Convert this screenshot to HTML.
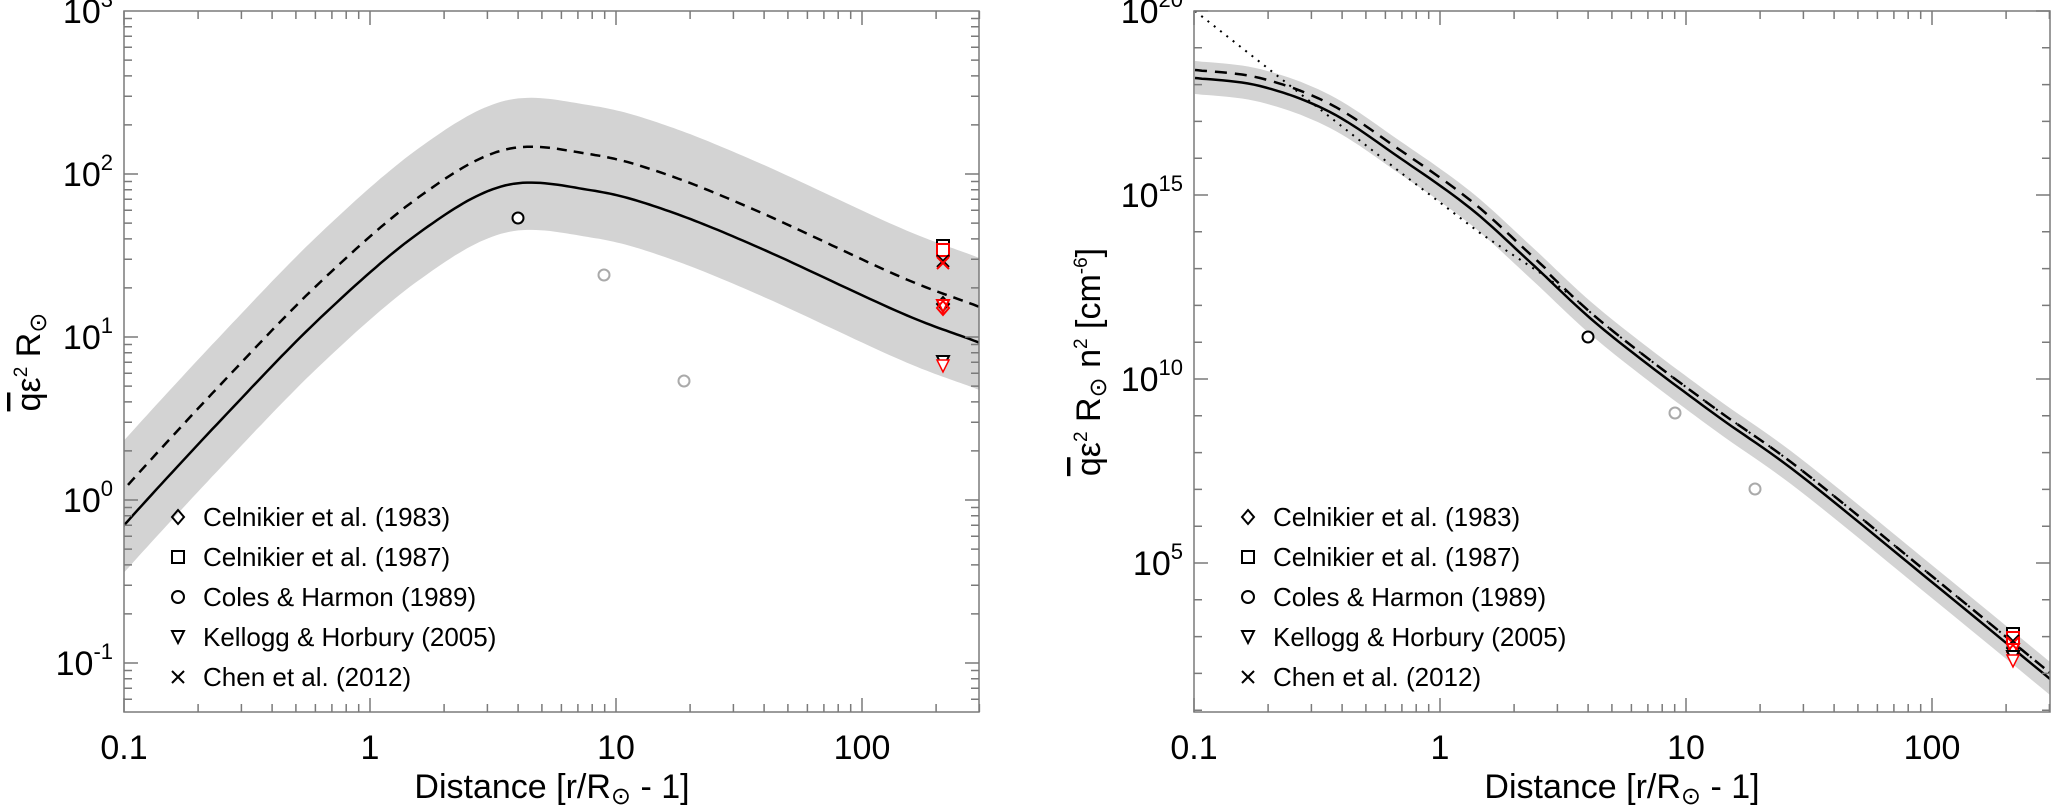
<!DOCTYPE html>
<html><head><meta charset="utf-8"><style>
html,body{margin:0;padding:0;background:#fff;}
svg{display:block;font-family:"Liberation Sans",sans-serif;}
</style></head><body>
<svg id="s" width="2051" height="805" xmlns="http://www.w3.org/2000/svg"></svg>
<script>
const S=document.getElementById('s');let h='';
function sample(p,n){
 const out=[];for(let i=0;i<p.length-1;i++){const p0=p[Math.max(i-1,0)],p1=p[i],p2=p[i+1],p3=p[Math.min(i+2,p.length-1)];
  for(let k=0;k<n;k++){const t=k/n,t2=t*t,t3=t2*t;
   out.push([0,1].map(j=>0.5*((2*p1[j])+(-p0[j]+p2[j])*t+(2*p0[j]-5*p1[j]+4*p2[j]-p3[j])*t2+(-p0[j]+3*p1[j]-3*p2[j]+p3[j])*t3)));}}
 out.push(p[p.length-1]);return out;}
const pl=a=>'M'+a.map(q=>q[0].toFixed(1)+','+q[1].toFixed(1)).join('L');
const G='#7a7a7a';
// ---------- LEFT PANEL ----------
const LX=u=>124+(u+1)*246, LY=v=>11+(3-v)*163;
const ls=sample([[-1.3,-0.68],[-1,-0.155],[-0.6,0.5],[-0.2,1.12],[0.2,1.64],[0.55,1.93],[0.9,1.90],[1.2,1.78],[1.585,1.546],[2.16,1.147],[2.48,0.963],[2.7,0.82]],20);
const up=ls.map(q=>[LX(q[0]),LY(q[1]+0.52)]), lo=ls.map(q=>[LX(q[0]),LY(q[1]-0.29)]);
h+='<clipPath id="cl"><rect x="124" y="11" width="855" height="701"/></clipPath>';
h+='<clipPath id="cr"><rect x="1194" y="11" width="856" height="701"/></clipPath>';
h+='<g clip-path="url(#cl)">';
h+='<path d="'+pl(up)+'L'+pl(lo.slice().reverse()).slice(1)+'Z" fill="#d3d3d3"/>';
h+='<path d="'+pl(ls.map(q=>[LX(q[0]),LY(q[1]+0.22)]))+'" fill="none" stroke="#000" stroke-width="2.5" stroke-dasharray="10,7"/>';
h+='<path d="'+pl(ls.map(q=>[LX(q[0]),LY(q[1])]))+'" fill="none" stroke="#000" stroke-width="2.5"/>';
h+='</g>';
h+='<circle cx="518" cy="218" r="5.5" fill="#fff" stroke="#000" stroke-width="2"/>';
h+='<circle cx="604" cy="275" r="5.5" fill="none" stroke="#aaa" stroke-width="2"/>';
h+='<circle cx="684" cy="381" r="5.5" fill="none" stroke="#aaa" stroke-width="2"/>';
function markers(x,ys){let s='';
 s+='<rect x="'+(x-6)+'" y="'+(ys.sq-7)+'" width="12" height="12" fill="#fff" stroke="#000" stroke-width="2"/>';
 s+='<rect x="'+(x-6)+'" y="'+(ys.sq-3)+'" width="12" height="12" fill="#fff" stroke="red" stroke-width="2"/>';
 s+='<path d="M'+(x-6)+','+(ys.x-5)+'l12,12M'+(x+6)+','+(ys.x-5)+'l-12,12" stroke="#000" stroke-width="2"/>';
 s+='<path d="M'+(x-6)+','+(ys.x-3)+'l12,12M'+(x+6)+','+(ys.x-3)+'l-12,12" stroke="red" stroke-width="2"/>';
 s+='<path d="M'+x+','+(ys.d-7)+'l6,7l-6,7l-6,-7Z" fill="#fff" stroke="#000" stroke-width="2"/>';
 s+='<path d="M'+(x-6)+','+(ys.d-4)+'h12l-6,12Z" fill="#fff" stroke="red" stroke-width="2"/>';
 s+='<path d="M'+x+','+(ys.d-3)+'l6,7l-6,7l-6,-7Z" fill="none" stroke="red" stroke-width="2"/>';
 s+='<path d="M'+(x-6)+','+(ys.t-4)+'h12l-6,12Z" fill="#fff" stroke="#000" stroke-width="2"/>';
 s+='<path d="M'+(x-6)+','+(ys.t)+'h12l-6,12Z" fill="#fff" stroke="red" stroke-width="1.5"/>';
 return s;}
h+=markers(943,{sq:247,x:260,d:304,t:360});
// ---------- RIGHT PANEL ----------
const rs=[[1195,78],[1260,86],[1330,112],[1400,158],[1470,208],[1530,262],[1590,318],[1650,366],[1720,418],[1800,475],[1933,583],[2055,683]];
const rsp=sample(rs,12);
h+='<g clip-path="url(#cr)">';
h+='<path d="'+pl(rsp.map(q=>[q[0],q[1]-17]))+'L'+pl(rsp.map(q=>[q[0],q[1]+16]).reverse()).slice(1)+'Z" fill="#d3d3d3"/>';
const dsp=rsp.map(q=>[q[0],q[1]-(q[0]<1550?8:6)]);
h+='<path d="'+pl(dsp)+'" fill="none" stroke="#000" stroke-width="2.5" stroke-dasharray="12,8"/>';
const dot=[[1195,11],[1270,70],[1400,172],[1480,233],[1510,253],[1545,276]].concat(dsp.filter(q=>q[0]>1570));
h+='<path d="'+pl(dot)+'" fill="none" stroke="#000" stroke-width="2" stroke-dasharray="2,6"/>';
h+='<path d="'+pl(rsp)+'" fill="none" stroke="#000" stroke-width="2.5"/>';
h+='</g>';
h+='<circle cx="1588" cy="337" r="5.5" fill="#fff" stroke="#000" stroke-width="2"/>';
h+='<circle cx="1675" cy="413" r="5.5" fill="none" stroke="#aaa" stroke-width="2"/>';
h+='<circle cx="1755" cy="489" r="5.5" fill="none" stroke="#aaa" stroke-width="2"/>';
h+=markers(2013,{sq:635,x:640,d:648,t:655});
// ---------- AXES ----------
function xaxis(x0){let s='<rect x="'+x0+'" y="11" width="'+(x0==124?855:856)+'" height="701" fill="none" stroke="'+G+'" stroke-width="1.5"/>';
 for(let d=-1;d<=2;d++)for(let m=1;m<=9;m++){const u=d+Math.log10(m);const x=x0+(u+1)*246;if(x>x0+856)continue;const L=m==1?14:8;
  s+='<path d="M'+x.toFixed(1)+',712v-'+L+'M'+x.toFixed(1)+',11v'+L+'" stroke="'+G+'" stroke-width="1.5"/>';}
 const labs=[['0.1',0],['1',1],['10',2],['100',3]];
 labs.forEach(l=>{s+='<text x="'+(x0+l[1]*246)+'" y="759" font-size="34" text-anchor="middle">'+l[0]+'</text>';});
 s+='<text x="'+(x0+428)+'" y="798" font-size="34" text-anchor="middle">Distance [r/R<tspan font-size="24" dy="6">⊙</tspan><tspan dy="-6"> - 1]</tspan></text>';
 return s;}
h+=xaxis(124);h+=xaxis(1194);
for(let d=-2;d<=2;d++)for(let m=1;m<=9;m++){const v=d+Math.log10(m);const y=LY(v);if(y>712||y<11)continue;const L=m==1?14:8;
 h+='<path d="M124,'+y.toFixed(1)+'h'+L+'M979,'+y.toFixed(1)+'h-'+L+'" stroke="'+G+'" stroke-width="1.5"/>';}
[3,2,1,0,-1].forEach(e=>{const y=LY(e);h+='<text x="113" y="'+(y+12)+'" font-size="34" text-anchor="end">10<tspan font-size="22" dy="-16">'+e+'</tspan></text>';});
const RY=v=>11+(20-v)*36.8;
for(let v=1;v<=20;v++){const y=RY(v);if(y>712)continue;const L=v%5==0?14:8;
 h+='<path d="M1194,'+y.toFixed(1)+'h'+L+'M2050,'+y.toFixed(1)+'h-'+L+'" stroke="'+G+'" stroke-width="1.5"/>';}
[20,15,10,5].forEach(e=>{const y=RY(e);h+='<text x="1183" y="'+(y+12)+'" font-size="34" text-anchor="end">10<tspan font-size="22" dy="-16">'+e+'</tspan></text>';});
h+='<text transform="translate(40,362) rotate(-90)" font-size="34" text-anchor="middle"><tspan text-decoration="overline">q</tspan>ε<tspan font-size="19" dy="-13">2</tspan><tspan dy="13"> R</tspan><tspan font-size="24" dy="6">⊙</tspan></text>';
h+='<text transform="translate(1100,362) rotate(-90)" font-size="34" text-anchor="middle"><tspan text-decoration="overline">q</tspan>ε<tspan font-size="19" dy="-13">2</tspan><tspan dy="13"> R</tspan><tspan font-size="24" dy="6">⊙</tspan><tspan dy="-6"> n</tspan><tspan font-size="19" dy="-13">2</tspan><tspan dy="13"> [cm</tspan><tspan font-size="19" dy="-13">-6</tspan><tspan dy="13">]</tspan></text>';
function legend(mx){const names=['Celnikier et al. (1983)','Celnikier et al. (1987)','Coles &amp; Harmon (1989)','Kellogg &amp; Horbury (2005)','Chen et al. (2012)'];
 let s='';names.forEach((n,i)=>{const y=517+i*40;
  if(i==0)s+='<path d="M'+mx+','+(y-7)+'l6,7l-6,7l-6,-7Z" fill="none" stroke="#000" stroke-width="2"/>';
  if(i==1)s+='<rect x="'+(mx-6)+'" y="'+(y-6)+'" width="12" height="12" fill="none" stroke="#000" stroke-width="2"/>';
  if(i==2)s+='<circle cx="'+mx+'" cy="'+y+'" r="6" fill="none" stroke="#000" stroke-width="2"/>';
  if(i==3)s+='<path d="M'+(mx-6)+','+(y-6)+'h12l-6,12Z" fill="none" stroke="#000" stroke-width="2"/>';
  if(i==4)s+='<path d="M'+(mx-6)+','+(y-6)+'l12,12M'+(mx+6)+','+(y-6)+'l-12,12" stroke="#000" stroke-width="2"/>';
  s+='<text x="'+(mx+25)+'" y="'+(y+9)+'" font-size="26">'+n+'</text>';});
 return s;}
h+=legend(178);h+=legend(1248);
S.innerHTML=h;
</script>
</body></html>
